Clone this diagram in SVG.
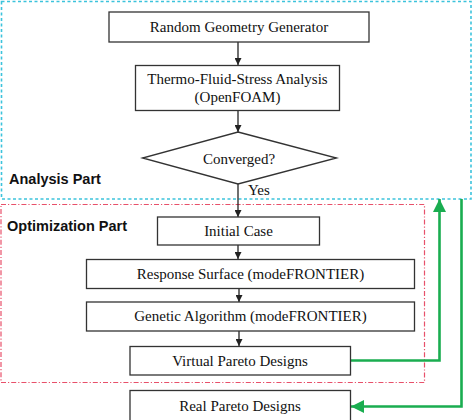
<svg xmlns="http://www.w3.org/2000/svg" width="474" height="420" viewBox="0 0 474 420">
<style>
.box{fill:#fff;stroke:#333;stroke-width:1.3}
.t{font-family:"Liberation Serif","Times New Roman",serif;font-size:15px;fill:#111;text-anchor:middle}
.lbl{font-family:"Liberation Sans",Arial,sans-serif;font-size:14.5px;font-weight:bold;fill:#111}
.ar{stroke:#222;stroke-width:1.3;fill:none;marker-end:url(#ah)}
.gr{stroke:#1aad50;stroke-width:2.6;fill:none;marker-end:url(#gh)}
</style>
<defs>
<marker id="ah" viewBox="0 0 10 10" refX="10" refY="5" markerUnits="userSpaceOnUse" markerWidth="7" markerHeight="7" orient="auto"><path d="M0,0 L10,5 L0,10 z" fill="#222"/></marker>
<marker id="gh" viewBox="0 0 10 10" refX="10" refY="5" markerUnits="userSpaceOnUse" markerWidth="13" markerHeight="13" orient="auto"><path d="M0,0 L10,5 L0,10 z" fill="#1aad50"/></marker>
</defs>
<rect width="474" height="420" fill="#fff"/>
<g id="analysis-region">
<rect x="1.5" y="1.5" width="469.5" height="197.5" fill="none" stroke="#3cc3dc" stroke-width="1.6" stroke-dasharray="3,2.5"/>
<text class="lbl" x="9" y="184">Analysis Part</text>
</g>
<g id="optimization-region">
<rect x="1" y="204.5" width="423.5" height="178" fill="none" stroke="#e8506a" stroke-width="1.2" stroke-dasharray="5,2,1.2,2"/>
<text class="lbl" x="7" y="231">Optimization Part</text>
</g>
<g id="connectors">
<line class="ar" x1="238" y1="42" x2="238" y2="65"/>
<line class="ar" x1="238" y1="111" x2="238" y2="132"/>
<line class="ar" x1="238" y1="184" x2="238" y2="217"/>
<line class="ar" x1="238" y1="245" x2="238" y2="259"/>
<line class="ar" x1="239" y1="288.5" x2="239" y2="302"/>
<line class="ar" x1="239" y1="331" x2="239" y2="346"/>
<text class="t" x="248" y="195" style="text-anchor:start">Yes</text>
<polyline class="gr" points="350.5,360.5 439.5,360.5 439.5,199"/>
<polyline class="gr" points="461.5,199 461.5,406.5 351,406.5"/>
</g>
<g id="n1"><rect class="box" x="109" y="12" width="260" height="30"/><text class="t" x="239" y="32">Random Geometry Generator</text></g>
<g id="n2"><rect class="box" x="135.5" y="65.5" width="204" height="45"/><text class="t" x="237.5" y="84">Thermo-Fluid-Stress Analysis</text><text class="t" x="237.5" y="102">(OpenFOAM)</text></g>
<g id="n3"><polygon class="box" points="238,132 336.5,158 238,184 142.5,158"/><text class="t" x="239" y="164">Converged?</text></g>
<g id="n4"><rect class="box" x="157.5" y="217" width="162" height="28"/><text class="t" x="238.5" y="236">Initial Case</text></g>
<g id="n5"><rect class="box" x="86.5" y="259.5" width="328" height="29"/><text class="t" x="250.5" y="278.5">Response Surface (modeFRONTIER)</text></g>
<g id="n6"><rect class="box" x="86.5" y="302" width="328" height="29"/><text class="t" x="250.5" y="321">Genetic Algorithm (modeFRONTIER)</text></g>
<g id="n7"><rect class="box" x="130" y="346.5" width="220.5" height="28.5"/><text class="t" x="240" y="366">Virtual Pareto Designs</text></g>
<g id="n8"><rect class="box" x="130" y="390.5" width="220.5" height="40"/><text class="t" x="240" y="411">Real Pareto Designs</text></g>
</svg>
